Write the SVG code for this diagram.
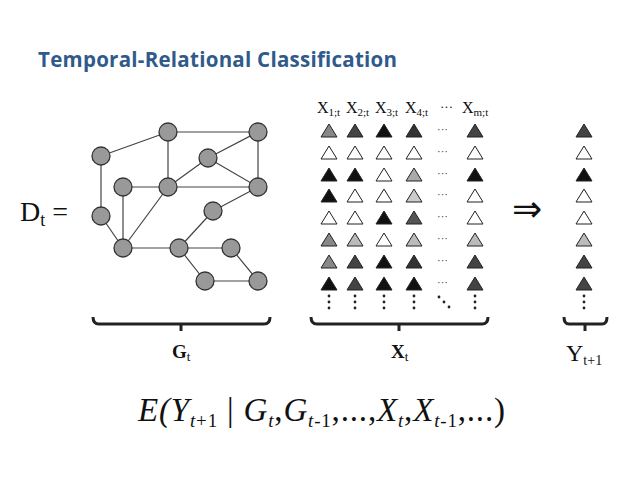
<svg xmlns="http://www.w3.org/2000/svg" xmlns:xlink="http://www.w3.org/1999/xlink" width="638" height="478" viewBox="0 0 638 478">
<style>
.n{fill:#999;stroke:#333;stroke-width:1.3}
.e{stroke:#444;stroke-width:1.2;fill:none}
.br{stroke:#222;stroke-width:3;fill:none}
.tx{font-family:"Liberation Serif",serif;fill:#111}
.a{fill:#444}.b{fill:#fff}.k{fill:#111}.g{fill:#888}.l{fill:#bbb}.d{fill:#333}.m{fill:#555}.c{fill:#aaa}
.dt{font-family:"Liberation Serif",serif;font-size:11px;fill:#333}
</style>
<defs>
<path id="t" d="M0,-7 L8,6 L-8,6 Z" stroke="#222" stroke-width="1" stroke-linejoin="round"/>
<g id="vd"><circle cx="0" cy="-6" r="1.4" fill="#222"/><circle cx="0" cy="0" r="1.4" fill="#222"/><circle cx="0" cy="6" r="1.4" fill="#222"/></g>
</defs>
<rect width="638" height="478" fill="#fff"/>
<text x="38" y="67" font-family="Open Sans, sans-serif" font-weight="bold" font-size="20.5" fill="#2F5A8B" textLength="359">Temporal-Relational Classification</text>
<text x="20" y="221" class="tx" font-size="28">D<tspan font-size="18" dy="5">t</tspan><tspan dy="-5"> =</tspan></text>
<g id="connectors">
<path class="e" d="M168,132L258,132 M168,132L101,156 M168,132L168,187 M258,132L208,158 M258,132L258,187 M208,158L168,187 M208,158L258,187 M101,156L101,216 M123,187L168,187 M123,187L123,248 M168,187L258,187 M168,187L123,248 M101,216L123,248 M258,187L213,211 M213,211L179,248 M123,248L179,248 M179,248L231,248 M179,248L205,281 M231,248L258,281 M205,281L258,281"/>
</g>
<g id="nodes">
<circle id="nA" class="n" cx="168" cy="132" r="9"/>
<circle id="nB" class="n" cx="258" cy="132" r="9"/>
<circle id="nC" class="n" cx="101" cy="156" r="9"/>
<circle id="nD" class="n" cx="208" cy="158" r="9"/>
<circle id="nE" class="n" cx="123" cy="187" r="9"/>
<circle id="nF" class="n" cx="168" cy="187" r="9"/>
<circle id="nG" class="n" cx="258" cy="187" r="9"/>
<circle id="nH" class="n" cx="101" cy="216" r="9"/>
<circle id="nI" class="n" cx="213" cy="211" r="9"/>
<circle id="nJ" class="n" cx="123" cy="248" r="9"/>
<circle id="nK" class="n" cx="179" cy="248" r="9"/>
<circle id="nL" class="n" cx="231" cy="248" r="9"/>
<circle id="nM" class="n" cx="205" cy="281" r="9"/>
<circle id="nN" class="n" cx="258" cy="281" r="9"/>
</g>
<g id="matrix" class="tx" font-size="16">
<text x="317" y="113">X<tspan font-size="11" dy="3">1;t</tspan></text>
<text x="346" y="113">X<tspan font-size="11" dy="3">2;t</tspan></text>
<text x="375" y="113">X<tspan font-size="11" dy="3">3;t</tspan></text>
<text x="405" y="113">X<tspan font-size="11" dy="3">4;t</tspan></text>
<text x="440" y="111" font-size="13">···</text>
<text x="462" y="113">X<tspan font-size="11" dy="3">m;t</tspan></text>
</g>
<g id="cells">
<g transform="translate(0,131)"><use href="#t" x="329" class="g"/><use href="#t" x="355" class="a"/><use href="#t" x="384" class="k"/><use href="#t" x="414" class="d"/><use href="#t" x="475" class="a"/></g>
<g transform="translate(0,153)"><use href="#t" x="329" class="b"/><use href="#t" x="355" class="b"/><use href="#t" x="384" class="b"/><use href="#t" x="414" class="b"/><use href="#t" x="475" class="b"/></g>
<g transform="translate(0,175)"><use href="#t" x="329" class="k"/><use href="#t" x="355" class="k"/><use href="#t" x="384" class="b"/><use href="#t" x="414" class="c"/><use href="#t" x="475" class="k"/></g>
<g transform="translate(0,196)"><use href="#t" x="329" class="k"/><use href="#t" x="355" class="b"/><use href="#t" x="384" class="b"/><use href="#t" x="414" fill="#ccc"/><use href="#t" x="475" class="b"/></g>
<g transform="translate(0,218)"><use href="#t" x="329" class="b"/><use href="#t" x="355" class="b"/><use href="#t" x="384" class="k"/><use href="#t" x="414" class="m"/><use href="#t" x="475" class="b"/></g>
<g transform="translate(0,240)"><use href="#t" x="329" class="g"/><use href="#t" x="355" class="l"/><use href="#t" x="384" class="b"/><use href="#t" x="414" class="l"/><use href="#t" x="475" class="l"/></g>
<g transform="translate(0,262)"><use href="#t" x="329" class="g"/><use href="#t" x="355" class="a"/><use href="#t" x="384" class="k"/><use href="#t" x="414" class="d"/><use href="#t" x="475" class="a"/></g>
<g transform="translate(0,284)"><use href="#t" x="329" class="k"/><use href="#t" x="355" class="a"/><use href="#t" x="384" class="k"/><use href="#t" x="414" class="k"/><use href="#t" x="475" class="a"/></g>
<text class="dt" x="437" y="133">···</text><text class="dt" x="437" y="155">···</text><text class="dt" x="437" y="177">···</text><text class="dt" x="437" y="198">···</text><text class="dt" x="437" y="220">···</text><text class="dt" x="437" y="242">···</text><text class="dt" x="437" y="264">···</text><text class="dt" x="437" y="286">···</text>
<use href="#vd" x="329" y="302"/><use href="#vd" x="355" y="302"/><use href="#vd" x="384" y="302"/><use href="#vd" x="414" y="302"/><use href="#vd" x="475" y="302"/>
<circle cx="439" cy="297" r="1.4" fill="#222"/><circle cx="444" cy="302" r="1.4" fill="#222"/><circle cx="449" cy="307" r="1.4" fill="#222"/>
</g>
<text x="512" y="221" font-family="DejaVu Sans, sans-serif" font-size="36" fill="#111">⇒</text>
<g id="ycol">
<use href="#t" x="584" y="131" class="a"/><use href="#t" x="584" y="153" class="b"/><use href="#t" x="584" y="175" class="k"/><use href="#t" x="584" y="196" class="b"/><use href="#t" x="584" y="218" class="b"/><use href="#t" x="584" y="240" class="l"/><use href="#t" x="584" y="262" class="a"/><use href="#t" x="584" y="284" class="a"/>
<use href="#vd" x="584" y="302"/>
</g>
<g id="brackets">
<path class="br" d="M93,317 Q93,324 99,324 L264,324 Q270,324 270,317 M181,324 L181,331"/>
<path class="br" d="M311,317 Q311,324 317,324 L482,324 Q488,324 488,317 M399,324 L399,331"/>
<path class="br" d="M564,317 Q564,324 569,324 L602,324 Q607,324 607,317 M585,324 L585,331"/>
</g>
<text x="172" y="358" class="tx" font-size="19" font-weight="bold">G<tspan font-size="13" font-weight="normal" dy="3">t</tspan></text>
<text x="391" y="358" class="tx" font-size="19" font-weight="bold">X<tspan font-size="13" font-weight="normal" dy="3">t</tspan></text>
<text x="566" y="361" class="tx" font-size="24">Y<tspan font-size="14" dy="4">t+1</tspan></text>
<text x="138" y="421" class="tx" font-size="33" font-style="italic" textLength="367" lengthAdjust="spacing">E(Y<tspan font-size="19" dy="6">t</tspan><tspan font-size="19" font-style="normal">+1</tspan><tspan dy="-6" font-style="normal"> | </tspan>G<tspan font-size="19" dy="6">t</tspan><tspan dy="-6" font-style="normal">,</tspan>G<tspan font-size="19" dy="6">t</tspan><tspan font-size="19" font-style="normal">-1</tspan><tspan dy="-6" font-style="normal">,...,</tspan>X<tspan font-size="19" dy="6">t</tspan><tspan dy="-6" font-style="normal">,</tspan>X<tspan font-size="19" dy="6">t</tspan><tspan font-size="19" font-style="normal">-1</tspan><tspan dy="-6" font-style="normal">,...)</tspan></text>
</svg>
